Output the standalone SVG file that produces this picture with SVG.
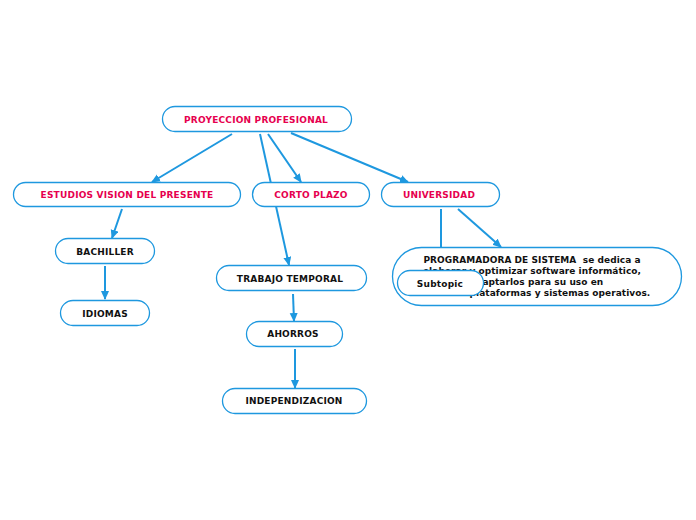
<svg xmlns="http://www.w3.org/2000/svg" width="696" height="520" viewBox="0 0 696 520">
<defs>
<marker id="ah" markerWidth="10" markerHeight="10" refX="8" refY="4" orient="auto" markerUnits="userSpaceOnUse">
<path d="M0,0 L9,4 L0,8 Z" fill="#1e98df"/>
</marker>
<style>
.n{fill:#fff;stroke:#1e98df;stroke-width:1.3}
.t{font-family:"DejaVu Sans",Verdana,sans-serif;font-weight:bold;font-size:9px;letter-spacing:0.2px;text-anchor:middle;dominant-baseline:central}
.p{letter-spacing:0.05px}
.r{fill:#e6004e}
.k{fill:#111}
.c line{stroke:#1e98df;stroke-width:2;fill:none}
.a{marker-end:url(#ah)}
</style>
</defs>
<rect width="696" height="520" fill="#fff"/>
<g class="c" id="connectors">
<line class="a" x1="232" y1="134" x2="152" y2="182"/>
<line class="a" x1="260" y1="134" x2="289" y2="265"/>
<line class="a" x1="268" y1="134" x2="301" y2="182"/>
<line class="a" x1="291" y1="133" x2="408" y2="182"/>
<line class="a" x1="122" y1="209" x2="112" y2="238"/>
<line class="a" x1="105" y1="266" x2="105" y2="299"/>
<line class="a" x1="293" y1="294" x2="294" y2="321"/>
<line class="a" x1="295" y1="349" x2="295" y2="388"/>
<line x1="441" y1="209" x2="441" y2="250"/>
<line class="a" x1="458" y1="209" x2="501" y2="247"/>
</g>
<g id="n-proyeccion"><rect class="n" x="162.5" y="106.5" width="189" height="25" rx="12.5"/><text class="t r" x="256" y="119.5">PROYECCION PROFESIONAL</text></g>
<g id="n-estudios"><rect class="n" x="13.5" y="182.5" width="227" height="24" rx="12"/><text class="t r" x="127" y="195">ESTUDIOS VISION DEL PRESENTE</text></g>
<g id="n-corto"><rect class="n" x="252.5" y="182.5" width="117" height="24" rx="12"/><text class="t r" x="311" y="195">CORTO PLAZO</text></g>
<g id="n-universidad"><rect class="n" x="381.5" y="182.5" width="118" height="24" rx="12"/><text class="t r" x="439" y="195">UNIVERSIDAD</text></g>
<g id="n-bachiller"><rect class="n" x="55.5" y="238.5" width="99" height="25" rx="12.5"/><text class="t k" x="105" y="251.5">BACHILLER</text></g>
<g id="n-idiomas"><rect class="n" x="60.5" y="300.5" width="89" height="25" rx="12.5"/><text class="t k" x="105" y="313.5">IDIOMAS</text></g>
<g id="n-trabajo"><rect class="n" x="216.5" y="265.5" width="150" height="25" rx="12.5"/><text class="t k" x="290" y="278.5">TRABAJO TEMPORAL</text></g>
<g id="n-ahorros"><rect class="n" x="246.5" y="321.5" width="96" height="25" rx="12.5"/><text class="t k" x="293" y="334">AHORROS</text></g>
<g id="n-independizacion"><rect class="n" x="222.5" y="388.5" width="144" height="25" rx="12.5"/><text class="t k" x="294" y="401">INDEPENDIZACION</text></g>
<g id="n-programadora"><rect class="n" x="392.5" y="247.5" width="289" height="58" rx="29"/>
<text class="t k p" x="532" y="260" xml:space="preserve">PROGRAMADORA DE SISTEMA  se dedica a</text>
<text class="t k p" x="532" y="271">elaborar y optimizar software informático,</text>
<text class="t k p" x="532" y="282">y adaptarlos para su uso en</text>
<text class="t k p" x="532" y="293">diferentes plataformas y sistemas operativos.</text>
</g>
<g id="n-subtopic"><rect class="n" x="397.5" y="270.5" width="86" height="25" rx="12.5"/><text class="t k" x="440" y="283.5">Subtopic</text></g>
</svg>
